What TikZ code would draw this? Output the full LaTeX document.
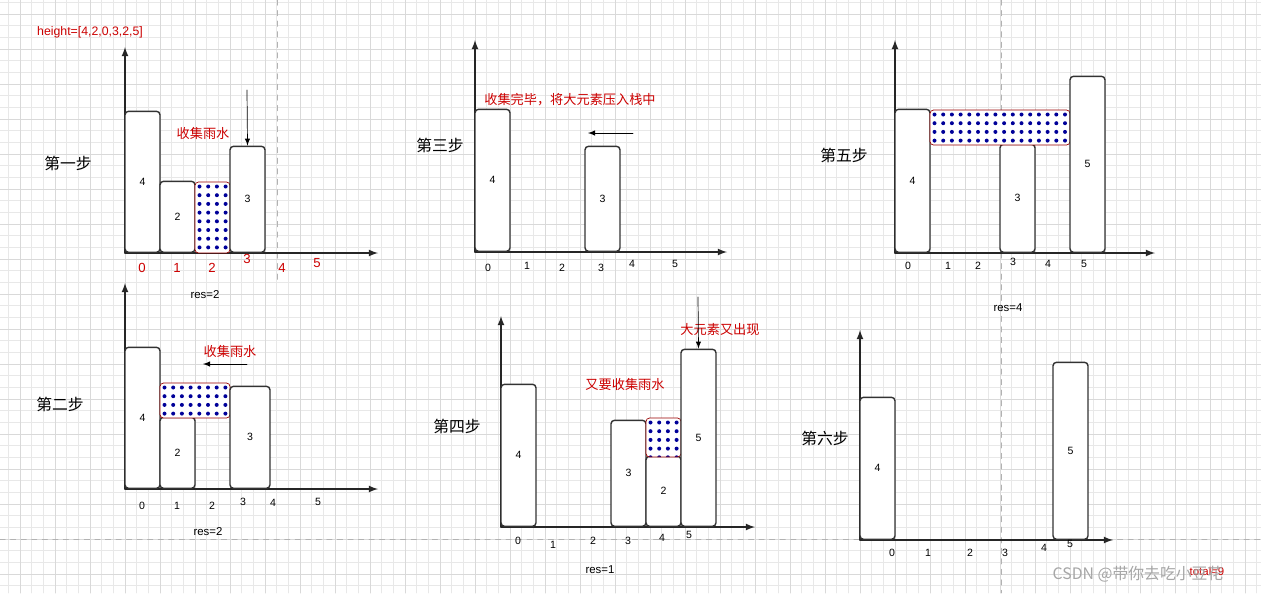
\documentclass[tikz,border=0pt]{standalone}
\usepackage{fontspec}
\setmainfont{Liberation Sans}
\newfontfamily\cjk{Noto Sans CJK SC}
\usetikzlibrary{calc}

% one bar: name, left x, top y, bottom y, value
\newcommand{\barnode}[5]{%
  \node[barbox,minimum height={(#4-#3)*0.02cm}] (#1) at (#2+17.5,#4) {#5};}
% dotted water: left x, top y, right x, bottom y
\newcommand{\waterbox}[4]{%
  \begin{scope}
    \clip[rounded corners=2pt] (#1,#2) rectangle (#3,#4);
    \fill[white] (#1,#2) rectangle (#3,#4);
    \foreach \i in {0,...,16}{\foreach \j in {0,...,8}{%
      \fill[dotblue] ($(#1+4.5,#2+4.5)+(\i*8.7,\j*8.7)$) circle (2);}}
  \end{scope}
  \draw[waterline] (#1,#2) rectangle (#3,#4);}

\begin{document}
\begin{tikzpicture}
				[x=0.02cm,y=-0.02cm,line cap=round,
				%Styles
				gridline/.style={gray!18,line width=0.4pt},
				major gridline/.style={gray!30,line width=0.5pt},
				axis/.style={-latex,thick,black!85},
				barbox/.style={draw=black!80,fill=white,rounded corners=2pt,anchor=south,minimum width=0.7cm,inner sep=0pt,font=\fontsize{6}{7}\selectfont,thick},
				waterline/.style={draw=red!60!black,rounded corners=2pt,thin},
				tick/.style={font=\fontsize{6}{7}\selectfont},
				redtick/.style={font=\fontsize{7.5}{9}\selectfont,red!80!black},
				note/.style={font=\cjk\fontsize{7.5}{9}\selectfont,red!80!black},
				step text/.style={font=\cjk\fontsize{9}{11}\selectfont},
				res text/.style={font=\fontsize{6.5}{8}\selectfont}
				]
				
				%Colors
				\colorlet{dotblue}{blue!60!black}
				
				%Background grid
				\useasboundingbox (0,0) rectangle (1261,593);
				\fill[white] (0,0) rectangle (1261,593);
				\foreach \k in {-74,...,35} \draw[gridline] ({860+\k*11.667},0) -- ({860+\k*11.667},593);
				\foreach \k in {-47,...,5} \draw[gridline] (0,{539+\k*11.667}) -- (1261,{539+\k*11.667});
				\foreach \k in {-25,...,12} \draw[major gridline] ({860+\k*35},0) -- ({860+\k*35},593);
				\foreach \k in {-16,...,2} \draw[major gridline] (0,{539+\k*35}) -- (1261,{539+\k*35});
				\draw[gray!60,dashed] (1001,0) -- (1001,593);
				\draw[gray!60,dashed] (277,0) -- (277,280);
				\draw[gray!60,dashed] (0,539) -- (1261,539);
				
				%Step 1
				\coordinate (o1) at (125,253);
				\draw[axis] (o1) -- (125,47);
				\draw[axis] (o1) -- (378,253);
				\barnode{s1b0}{125}{112}{253}{4}
				\barnode{s1b1}{160}{182}{253}{2}
				\waterbox{195}{182}{230}{253}
				\barnode{s1b3}{230}{147}{253}{3}
				\foreach \v/\x/\y in {0/142/268,1/177/268,2/212/268,3/247/259,4/282/268,5/317/263}
					\node[redtick] at (\x,\y) {\v};
				\node[redtick,font=\fontsize{7}{8}\selectfont] (height) at (90,32) {height=[4,2,0,3,2,5]};
				\node[note] (n1) at (203,133) {收集雨水};
				\coordinate (a1) at (247,90);
				\draw[-latex] (a1) -- (s1b3.north);
				\node[step text] at (68,163) {第一步};
				\node[res text] at (205,295) {res=2};
				
				%Step 2
				\coordinate (o2) at (125,489);
				\draw[axis] (o2) -- (125,283);
				\draw[axis] (o2) -- (378,489);
				\barnode{s2b0}{125}{348}{489}{4}
				\barnode{s2b1}{160}{418}{489}{2}
				\waterbox{160}{383}{230}{418}
				\node[barbox,minimum width=0.8cm,minimum height=2.04cm] (s2b3) at (250,489) {3};
				\foreach \v/\x/\y in {0/142/506,1/177/506,2/212/506,3/243/502,4/273/503,5/318/502}
					\node[tick] at (\x,\y) {\v};
				\node[note] (n2) at (230,351) {收集雨水};
				\coordinate (a2s) at (247,364);
				\coordinate (a2e) at (203,364);
				\draw[-latex] (a2s) -- (a2e);
				\node[step text] at (60,404) {第二步};
				\node[res text] at (208,532) {res=2};
				
				%Step 3
				\coordinate (o3) at (475,252);
				\draw[axis] (o3) -- (475,40);
				\draw[axis] (o3) -- (727,252);
				\barnode{s3b0}{475}{110}{252}{4}
				\barnode{s3b3}{585}{147}{252}{3}
				\foreach \v/\x/\y in {0/488/268,1/527/266,2/562/268,3/601/268,4/632/264,5/675/264}
					\node[tick] at (\x,\y) {\v};
				\node[note] (n3) at (570,100) {收集完毕，将大元素压入栈中};
				\coordinate (a3s) at (633,133);
				\coordinate (a3e) at (588,133);
				\draw[-latex] (a3s) -- (a3e);
				\node[step text] at (440,145) {第三步};
				
				%Step 4
				\coordinate (o4) at (501,527);
				\draw[axis] (o4) -- (501,316);
				\draw[axis] (o4) -- (755,527);
				\barnode{s4b0}{501}{385}{527}{4}
				\barnode{s4b3}{611}{421}{527}{3}
				\barnode{s4b4}{646}{457}{527}{2}
				\waterbox{646}{418}{681}{457}
				\barnode{s4b5}{681}{350}{527}{5}
				\foreach \v/\x/\y in {0/518/541,1/553/545,2/593/541,3/628/541,4/662/538,5/689/535}
					\node[tick] at (\x,\y) {\v};
				\node[note] (n4) at (625,384) {又要收集雨水};
				\node[note] (n4b) at (720,329) {大元素又出现};
				\coordinate (a4) at (698,297);
				\draw[-latex] (a4) -- (s4b5.north);
				\node[step text] at (457,426) {第四步};
				\node[res text] at (600,570) {res=1};
				
				%Step 5
				\coordinate (o5) at (895,253);
				\draw[axis] (o5) -- (895,40);
				\draw[axis] (o5) -- (1155,253);
				\barnode{s5b0}{895}{110}{253}{4}
				\barnode{s5b3}{1000}{145}{253}{3}
				\waterbox{930}{110}{1070}{145}
				\barnode{s5b5}{1070}{77}{253}{5}
				\foreach \v/\x/\y in {0/908/266,1/948/266,2/978/266,3/1013/262,4/1048/264,5/1084/264}
					\node[tick] at (\x,\y) {\v};
				\node[step text] at (844,155) {第五步};
				\node[res text] at (1008,308) {res=4};
				
				%Step 6
				\coordinate (o6) at (860,540);
				\draw[axis] (o6) -- (860,330);
				\draw[axis] (o6) -- (1113,540);
				\barnode{s6b0}{860}{398}{540}{4}
				\barnode{s6b5}{1053}{363}{540}{5}
				\foreach \v/\x/\y in {0/892/553,1/928/553,2/970/553,3/1005/553,4/1044/548,5/1070/544}
					\node[tick] at (\x,\y) {\v};
				\node[step text] at (825,438) {第六步};
				\node[redtick,font=\fontsize{6.5}{8}\selectfont] at (1207,571) {total=9};
				\node[font=\cjk\fontsize{9}{11}\selectfont,gray!70] at (1138,574) {CSDN @带你去吃小豆花};
			\end{tikzpicture}
\end{document}
